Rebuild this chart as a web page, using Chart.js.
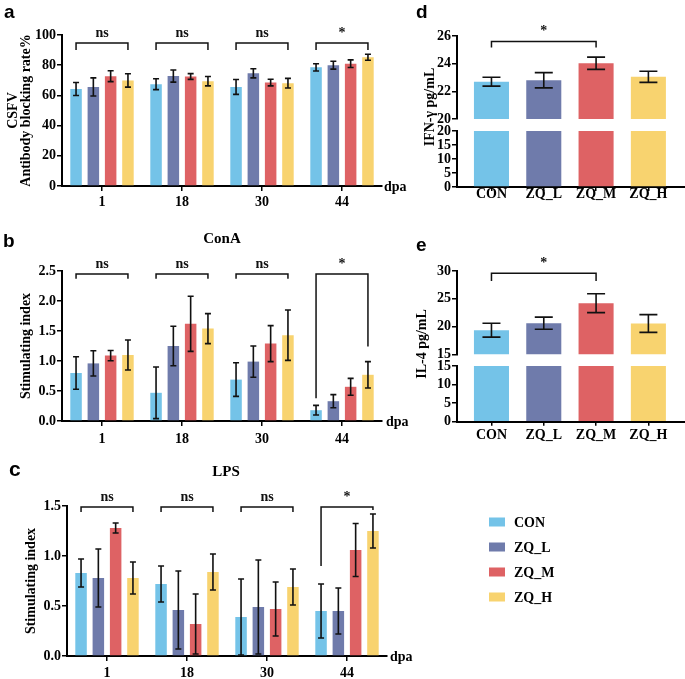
<!DOCTYPE html>
<html>
<head>
<meta charset="utf-8">
<script src="https://cdn.jsdelivr.net/npm/chart.js@4"></script>
<style>
  html, body { margin: 0; padding: 0; background: #fff; }
  #page { position: relative; width: 685px; height: 679px; overflow: hidden; background: #fff; }
  #page canvas { position: absolute; left: 0; top: 0; }
</style>
</head>
<body>
<div id="page"></div>
<script>
// ---- data ----
const groups = ['CON', 'ZQ_L', 'ZQ_M', 'ZQ_H']
const dpaLabels = ['1', '18', '30', '44']
const barColors = ['#74C3E8', '#6F7BAB', '#DE6264', '#F8D36F']

// a: CSFV antibody blocking rate %, rows = group, cols = dpa
const csfvMean = [
  [64.2, 67.4, 65.6, 78.6],
  [65.6, 72.8, 74.6, 80.0],
  [72.7, 72.5, 68.5, 81.0],
  [69.9, 69.4, 68.1, 85.3],
]
const csfvErr = [
  [4.3, 3.6, 4.9, 2.4],
  [6.0, 4.0, 3.0, 2.6],
  [3.6, 1.9, 2.2, 2.5],
  [4.4, 3.1, 3.2, 2.0],
]
const csfvSig = ['ns', 'ns', 'ns', '*']

// b: ConA stimulating index
const conaMean = [
  [0.80, 0.47, 0.69, 0.18],
  [0.96, 1.25, 0.99, 0.33],
  [1.09, 1.62, 1.29, 0.57],
  [1.10, 1.54, 1.43, 0.77],
]
const conaErr = [
  [0.27, 0.43, 0.28, 0.08],
  [0.21, 0.33, 0.26, 0.11],
  [0.085, 0.46, 0.30, 0.14],
  [0.25, 0.25, 0.42, 0.22],
]
const conaSig = ['ns', 'ns', 'ns', '*']

// c: LPS stimulating index
const lpsMean = [
  [0.83, 0.72, 0.39, 0.45],
  [0.78, 0.46, 0.49, 0.45],
  [1.28, 0.32, 0.47, 1.06],
  [0.78, 0.84, 0.69, 1.25],
]
const lpsErr = [
  [0.14, 0.18, 0.38, 0.27],
  [0.29, 0.39, 0.47, 0.23],
  [0.05, 0.30, 0.27, 0.265],
  [0.16, 0.18, 0.18, 0.17],
]
const lpsSig = ['ns', 'ns', 'ns', '*']

// d: IFN-γ pg/mL, e: IL-4 pg/mL
const ifnMean = [22.7, 22.8, 24.03, 23.05]
const ifnErr = [0.32, 0.55, 0.44, 0.40]
const il4Mean = [19.35, 20.6, 24.2, 20.55]
const il4Err = [1.25, 1.1, 1.7, 1.6]

// ---- drawing helpers ----
const PAGE_W = 685
const PAGE_H = 679
const SERIF = '"Liberation Serif", "Times New Roman", serif'
const SANS = '"Liberation Sans", Arial, sans-serif'
const tickFont = { family: SERIF, size: 14, weight: 'bold' }

Chart.defaults.font.family = SERIF
Chart.defaults.color = '#000'

const errorBarPlugin = {
  id: 'errorBars',
  afterDatasetsDraw(chart, args, opts) {
    if (!opts.errors) return
    const { ctx } = chart
    const yScale = chart.scales.y
    ctx.save()
    ctx.strokeStyle = '#111'
    ctx.lineWidth = 1.6
    chart.data.datasets.forEach((ds, i) => {
      chart.getDatasetMeta(i).data.forEach((bar, j) => {
        const raw = ds.data[j]
        const v = typeof raw === 'object' ? raw.y : raw
        const e = opts.errors[i][j]
        const top = yScale.getPixelForValue(v + e)
        const bot = yScale.getPixelForValue(v - e)
        ctx.beginPath()
        ctx.moveTo(bar.x, top); ctx.lineTo(bar.x, bot)
        ctx.moveTo(bar.x - opts.cap, top); ctx.lineTo(bar.x + opts.cap, top)
        ctx.moveTo(bar.x - opts.cap, bot); ctx.lineTo(bar.x + opts.cap, bot)
        ctx.stroke()
      })
    })
    ctx.restore()
  },
}

const bracketPlugin = {
  id: 'sigBrackets',
  afterDatasetsDraw(chart, args, opts) {
    if (!opts.items) return
    const { ctx } = chart
    const y = chart.scales.y
    ctx.save()
    ctx.strokeStyle = '#111'
    ctx.fillStyle = '#111'
    ctx.lineWidth = 1.5
    ctx.font = `bold 14px ${SERIF}`
    ctx.textAlign = 'center'
    ctx.textBaseline = 'middle'
    opts.items.forEach((b) => {
      const x1 = chart.getDatasetMeta(b.from[0]).data[b.from[1]].x
      const x2 = chart.getDatasetMeta(b.to[0]).data[b.to[1]].x
      const yt = y.getPixelForValue(b.top)
      ctx.beginPath()
      ctx.moveTo(x1, y.getPixelForValue(b.left))
      ctx.lineTo(x1, yt)
      ctx.lineTo(x2, yt)
      ctx.lineTo(x2, y.getPixelForValue(b.right))
      ctx.stroke()
      ctx.fillText(b.label, (x1 + x2) / 2, yt - 10)
    })
    ctx.restore()
  },
}

const pageTextPlugin = {
  id: 'pageText',
  afterDraw(chart, args, opts) {
    if (!opts.items) return
    const { ctx } = chart
    opts.items.forEach((t) => {
      ctx.save()
      if (t.rect) {
        ctx.fillStyle = t.color
        ctx.fillRect(...t.rect)
      } else {
        ctx.fillStyle = '#000'
        ctx.font = t.font
        ctx.textAlign = t.align || 'left'
        ctx.textBaseline = t.baseline || 'middle'
        ctx.translate(t.x, t.y)
        if (t.rotate) ctx.rotate(t.rotate)
        ctx.fillText(t.text, 0, 0)
      }
      ctx.restore()
    })
  },
}

Chart.register(errorBarPlugin, bracketPlugin, pageTextPlugin)

function newCtx() {
  const c = document.createElement('canvas')
  c.width = PAGE_W
  c.height = PAGE_H
  document.getElementById('page').appendChild(c)
  return c.getContext('2d')
}

function yAxis(min, max, step, decimals, extra) {
  return Object.assign({
    min,
    max,
    border: { display: true, color: '#000', width: 2 },
    grid: { drawOnChartArea: false, drawTicks: true, tickLength: 5, color: '#000', lineWidth: 1.5 },
    ticks: {
      stepSize: step, color: '#000', font: tickFont, padding: 1, autoSkip: false,
      callback: (v) => v.toFixed(decimals),
    },
  }, extra)
}

function baseOptions(padding, scales, plugins) {
  return {
    responsive: false,
    animation: false,
    devicePixelRatio: 1,
    events: [],
    layout: { padding },
    scales,
    plugins: Object.assign({ legend: { display: false }, tooltip: { enabled: false } }, plugins),
  }
}

// grouped panels a, b, c; area = chart area in page pixels
function groupedPanel(area, means, errs, y, brackets, xPad) {
  const X_H = 30
  return new Chart(newCtx(), {
    type: 'bar',
    data: {
      labels: dpaLabels,
      datasets: groups.map((g, i) => ({
        label: g,
        data: means[i],
        backgroundColor: barColors[i],
        borderWidth: 0,
        categoryPercentage: 0.865,
        barPercentage: 0.665,
      })),
    },
    options: baseOptions(
      { left: 0, top: area.t, right: PAGE_W - area.r, bottom: PAGE_H - area.b - X_H },
      {
        x: {
          type: 'category',
          offset: true,
          border: { display: true, color: '#000', width: 2 },
          grid: { offset: false, drawOnChartArea: false, drawTicks: true, tickLength: 5, color: '#000', lineWidth: 1.5 },
          ticks: { color: '#000', font: tickFont, padding: xPad, maxRotation: 0, autoSkip: false },
          afterFit: (s) => { s.height = X_H },
        },
        y: Object.assign(y, { afterFit: (s) => { s.width = area.l } }),
      },
      { errorBars: { errors: errs, cap: 3 }, sigBrackets: { items: brackets } },
    ),
  })
}

function groupBrackets(labels, top, arm, lastArms) {
  return labels.map((label, g) => ({
    from: [0, g],
    to: [3, g],
    top,
    left: g === 3 && lastArms ? lastArms[0] : arm,
    right: g === 3 && lastArms ? lastArms[1] : arm,
    label,
  }))
}

// ---- panel a ----
groupedPanel(
  { l: 62, r: 382, t: 35, b: 186 },
  csfvMean, csfvErr,
  yAxis(0, 100, 20, 0, {
    title: {
      display: true,
      text: ['CSFV', 'Antibody blocking rate%'],
      color: '#000',
      font: { family: SERIF, size: 14, weight: 'bold', lineHeight: 0.9 },
      padding: { top: 7, bottom: 0 },
    },
  }),
  groupBrackets(csfvSig, 94.7, 90),
  3,
)

// ---- panel b ----
groupedPanel(
  { l: 62, r: 382, t: 271, b: 421 },
  conaMean, conaErr,
  yAxis(0, 2.5, 0.5, 1, {
    title: {
      display: true, text: 'Stimulating index', color: '#000',
      font: { family: SERIF, size: 14, weight: 'bold', lineHeight: 1 },
      padding: { top: 19, bottom: 0 },
    },
  }),
  groupBrackets(conaSig, 2.45, 2.37, [0.38, 1.24]),
  5,
)

// ---- panel c ----
groupedPanel(
  { l: 67, r: 387, t: 506, b: 656 },
  lpsMean, lpsErr,
  yAxis(0, 1.5, 0.5, 1, {
    title: {
      display: true, text: 'Stimulating index', color: '#000',
      font: { family: SERIF, size: 14, weight: 'bold', lineHeight: 1 },
      padding: { top: 24, bottom: 0 },
    },
  }),
  groupBrackets(lpsSig, 1.49, 1.44, [0.9, 1.46]),
  4,
)

// ---- broken-axis panels d, e ----
const X_MIN = -0.659
const X_MAX = 3.70

function brokenPart(values, area, y, showX, xPad, plugins) {
  const X_H = showX ? 24 : 0
  return new Chart(newCtx(), {
    type: 'bar',
    data: {
      datasets: [{
        data: values.map((v, i) => ({ x: i, y: v })),
        backgroundColor: barColors,
        borderWidth: 0,
        categoryPercentage: 1,
        barPercentage: 0.67,
        clip: 0,
      }],
    },
    options: baseOptions(
      { left: 400, top: area.t, right: PAGE_W - area.r, bottom: PAGE_H - area.b - X_H },
      {
        x: {
          type: 'linear',
          display: showX,
          offset: false,
          min: X_MIN,
          max: X_MAX,
          afterBuildTicks: (s) => { s.ticks = groups.map((g, i) => ({ value: i })) },
          border: { display: true, color: '#000', width: 2 },
          grid: { offset: false, drawOnChartArea: false, drawTicks: true, tickLength: 4, color: '#000', lineWidth: 1.5 },
          ticks: {
            color: '#000', font: { family: SERIF, size: 14, weight: 'bold', lineHeight: 1 },
            padding: xPad, maxRotation: 0, autoSkip: false, callback: (v) => groups[v],
          },
          afterFit: (s) => { s.height = X_H },
        },
        y: Object.assign(y, { afterFit: (s) => { s.width = area.l - 400 } }),
      },
      plugins,
    ),
  })
}

// d
brokenPart(ifnMean, { l: 457, r: 685, t: 36, b: 119 }, yAxis(20, 26, 2, 0), false, 0, {
  errorBars: { errors: [ifnErr], cap: 9 },
  sigBrackets: { items: [{ from: [0, 0], to: [0, 2], top: 25.6, left: 25.17, right: 25.17, label: '*' }] },
})
brokenPart(ifnMean, { l: 457, r: 685, t: 131, b: 187 }, yAxis(0, 20, 5, 0), true, -4, {})

// e
brokenPart(il4Mean, { l: 457, r: 685, t: 271, b: 354.3 }, yAxis(15, 30, 5, 0), false, 0, {
  errorBars: { errors: [il4Err], cap: 9 },
  sigBrackets: { items: [{ from: [0, 0], to: [0, 2], top: 29.6, left: 28.2, right: 28.2, label: '*' }] },
})

const boldSerif = `bold 14px ${SERIF}`
const letterFont = `bold 19px ${SANS}`
const pageItems = [
  { text: 'a', x: 4, y: 18, font: letterFont, baseline: 'alphabetic' },
  { text: 'b', x: 3, y: 247, font: letterFont, baseline: 'alphabetic' },
  { text: 'c', x: 9, y: 476, font: `bold 21px ${SANS}`, baseline: 'alphabetic' },
  { text: 'd', x: 416, y: 18, font: letterFont, baseline: 'alphabetic' },
  { text: 'e', x: 416, y: 251, font: letterFont, baseline: 'alphabetic' },
  { text: 'ConA', x: 222, y: 239, font: `bold 15px ${SERIF}`, align: 'center' },
  { text: 'LPS', x: 226, y: 472, font: `bold 15px ${SERIF}`, align: 'center' },
  { text: 'dpa', x: 384, y: 187, font: boldSerif },
  { text: 'dpa', x: 386, y: 422, font: boldSerif },
  { text: 'dpa', x: 390, y: 657, font: boldSerif },
  { text: 'IFN-γ pg/mL', x: 430, y: 107, font: boldSerif, align: 'center', rotate: -Math.PI / 2 },
  { text: 'IL-4 pg/mL', x: 422, y: 344, font: boldSerif, align: 'center', rotate: -Math.PI / 2 },
]
groups.forEach((g, i) => {
  const y = 522 + i * 25
  pageItems.push({ rect: [489, y - 4.5, 16, 9], color: barColors[i] })
  pageItems.push({ text: g, x: 514, y: y + 1, font: boldSerif })
})

brokenPart(il4Mean, { l: 457, r: 685, t: 366, b: 421.7 }, yAxis(0, 15, 5, 0), true, 2.6, {
  pageText: { items: pageItems },
})
</script>
</body>
</html>
